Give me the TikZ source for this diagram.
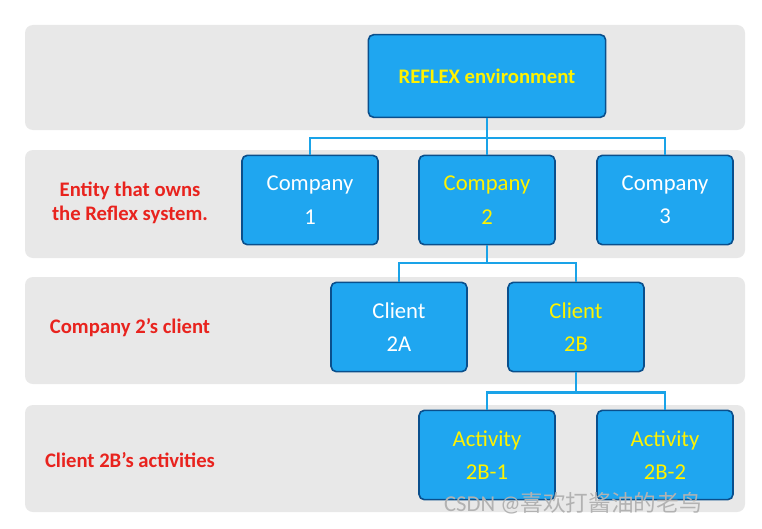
\documentclass[tikz,border=0pt]{standalone}
\usepackage{fontspec}
\setmainfont{Carlito}
\newfontfamily\cjk{Noto Sans CJK SC}
\definecolor{boxfill}{HTML}{1FA6F0}
\definecolor{boxline}{HTML}{0A4F8C}
\definecolor{conc}{HTML}{1AA3E8}
\definecolor{lred}{HTML}{E8231E}
\definecolor{ytext}{HTML}{FFF200}
\begin{document}
\begin{tikzpicture}[x=0.75pt,y=-0.75pt,
  band/.style={fill=black!9,rounded corners=6pt,draw=none},
  box/.style={draw=boxline,line width=1.2pt,fill=boxfill,rounded corners=4pt,
     minimum width=102pt,minimum height=67pt,align=center,font=\fontsize{17}{25}\selectfont},
  big/.style={box,minimum width=178pt,minimum height=62pt,font=\bfseries\fontsize{15.5}{18}\selectfont},
  lbl/.style={text=lred,font=\bfseries\fontsize{15.5}{18}\selectfont,align=center},
  con/.style={draw=conc,line width=1.6pt}]
\useasboundingbox[fill=white] (0,0) rectangle (762,528);
\fill[band] (25,25) rectangle (745,130);
\fill[band] (25,150) rectangle (745,258);
\fill[band] (25,277) rectangle (745,384);
\fill[band] (25,405) rectangle (745,512);
\node[big,text=ytext] (r) at (487,76) {REFLEX environment};
\node[box,text=white] (c1) at (310,200) {Company\\1};
\node[box,text=ytext] (c2) at (487,200) {Company\\2};
\node[box,text=white] (c3) at (665,200) {Company\\3};
\node[box,text=white] (a) at (399,327) {Client\\2A};
\node[box,text=ytext] (b) at (576,327) {Client\\2B};
\node[box,text=ytext] (x1) at (487,455) {Activity\\2B-1};
\node[box,text=ytext] (x2) at (665,455) {Activity\\2B-2};
\draw[con] (r.south) -- ++(0,-15pt) -| (c1.north);
\draw[con] (r.south) -- (c2.north);
\draw[con] (r.south) -- ++(0,-15pt) -| (c3.north);
\draw[con] (c2.south) -- ++(0,-13pt) -| (a.north);
\draw[con] (c2.south) -- ++(0,-13pt) -| (b.north);
\draw[con] (b.south) -- ++(0,-15pt) -| (x1.north);
\draw[con] (b.south) -- ++(0,-15pt) -| (x2.north);
\node[lbl] (l1) at (130,203) {Entity that owns\\the Reflex system.};
\node[lbl] (l2) at (130,328) {Company 2's client};
\node[lbl] (l3) at (130,460) {Client 2B's activities};
\node[text=black!30,font=\fontsize{17}{20}\selectfont] (w) at (573,503) {CSDN @{\cjk 喜欢打酱油的老鸟}};
\end{tikzpicture}
\end{document}
